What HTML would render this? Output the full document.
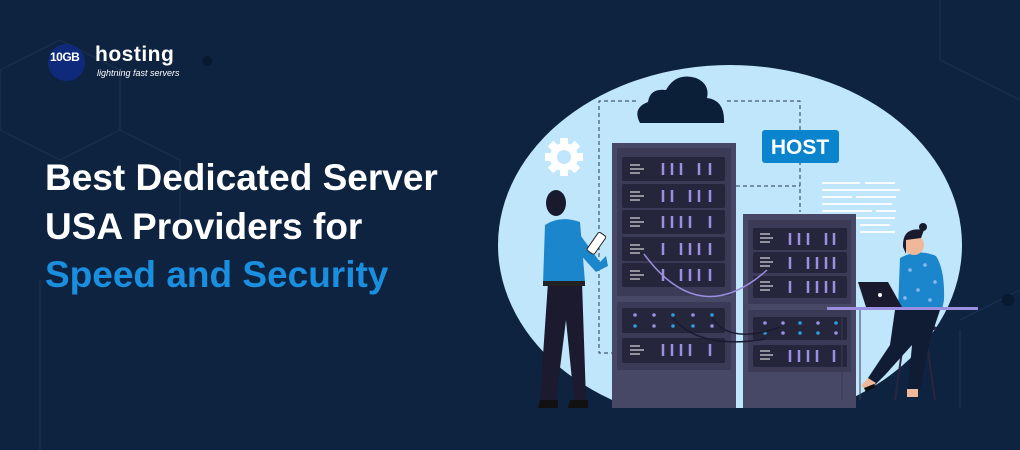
<!DOCTYPE html>
<html><head><meta charset="utf-8"><style>
html,body{margin:0;padding:0;background:#0e2340;}
body{width:1020px;height:450px;overflow:hidden;position:relative;font-family:"Liberation Sans",sans-serif;}
.t{position:absolute;left:45px;font-weight:bold;font-size:37px;color:#fff;letter-spacing:0px;line-height:48px;white-space:nowrap;}
</style></head><body>
<svg width="1020" height="450" style="position:absolute;left:0;top:0">
<g stroke="#1b3352" stroke-width="1" fill="none">
<path d="M0 70 L60 40 L120 70 L120 130 L60 160 L0 130Z"/>
<path d="M120 130 L180 160 L180 220"/>
<path d="M40 280 L40 450"/>
<path d="M940 0 L940 60 L1020 100"/>
<path d="M960 320 L1020 290"/>
<path d="M960 330 L960 450"/>
<path d="M720 410 L720 450 M780 410 L780 450"/>
</g>
<circle cx="207" cy="61" r="5" fill="#081a30"/>
<circle cx="1008" cy="300" r="6" fill="#081a30"/>
<ellipse cx="730" cy="245" rx="232" ry="180" fill="#bfe6fb"/>
<rect x="480" y="408" width="520" height="42" fill="#0e2340"/>
<g stroke="#2a3a55" stroke-width="1" stroke-dasharray="4,3" fill="none">
<path d="M636 101 L599 101 L599 353 L612 353"/>
<path d="M727 101 L800 101 L800 212"/>
<path d="M736 186 L800 186"/>
</g>
<path d="M640 123 Q632 108 648 102 Q650 88 666 90 Q676 72 696 78 Q710 84 707 98 Q725 100 724 123 Z" fill="#0b1f38"/>
<rect x="762" y="130" width="77" height="33" rx="3" fill="#0a84cd"/>
<text x="800" y="154" text-anchor="middle" font-family="Liberation Sans" font-weight="bold" font-size="21" fill="#fff">HOST</text>
<g transform="translate(564,157)" fill="#fff">
<circle r="14"/>
<g><rect x="-4" y="-19" width="8" height="38"/><rect x="-4" y="-19" width="8" height="38" transform="rotate(45)"/><rect x="-4" y="-19" width="8" height="38" transform="rotate(90)"/><rect x="-4" y="-19" width="8" height="38" transform="rotate(135)"/></g>
<circle r="7" fill="#bfe6fb"/>
</g>
<g stroke="#fff" stroke-width="2" opacity="0.9">
<path d="M822 183 h38 M865 183 h30"/><path d="M822 190 h78"/><path d="M822 197 h30 M856 197 h40"/><path d="M822 204 h70"/><path d="M822 211 h50 M876 211 h20"/><path d="M822 218 h25 M850 218 h45"/><path d="M860 225 h30"/><path d="M860 232 h35"/>
</g>
<rect x="612" y="143" width="124" height="265" fill="#474766"/>
<rect x="617" y="148" width="114" height="148" fill="#3b3b58"/>
<rect x="617" y="302" width="114" height="68" fill="#3b3b58"/>
<rect x="622" y="157" width="103" height="24" rx="2" fill="#25253b"/>
<rect x="622" y="184" width="103" height="24" rx="2" fill="#25253b"/>
<rect x="622" y="210" width="103" height="24" rx="2" fill="#25253b"/>
<rect x="622" y="237" width="103" height="24" rx="2" fill="#25253b"/>
<rect x="622" y="263" width="103" height="24" rx="2" fill="#25253b"/>
<rect x="622" y="308" width="103" height="25" rx="2" fill="#25253b"/>
<rect x="622" y="338" width="103" height="25" rx="2" fill="#25253b"/>
<g stroke="#9a8fe0" stroke-width="2.5">
<path d="M663 163v12M672 163v12M681 163v12M699 163v12M710 163v12"/>
<path d="M663 190v12M672 190v12M690 190v12M699 190v12M710 190v12"/>
<path d="M663 216v12M672 216v12M681 216v12M690 216v12M710 216v12"/>
<path d="M663 243v12M681 243v12M690 243v12M699 243v12M710 243v12"/>
<path d="M663 269v12M681 269v12M690 269v12M699 269v12M710 269v12"/>
<path d="M663 344v12M672 344v12M681 344v12M690 344v12M710 344v12"/>
</g>
<g stroke="#fff" stroke-width="1">
<path d="M630 165h10M630 169h14M630 173h10"/><path d="M630 192h10M630 196h14M630 200h10"/><path d="M630 218h10M630 222h14M630 226h10"/><path d="M630 245h10M630 249h14M630 253h10"/><path d="M630 271h10M630 275h14M630 279h10"/><path d="M630 346h10M630 350h14M630 354h10"/>
</g>
<g fill="#9a8fe0"><circle cx="635" cy="315" r="1.8"/><circle cx="654" cy="315" r="1.8"/><circle cx="693" cy="315" r="1.8"/><circle cx="654" cy="326" r="1.8"/><circle cx="712" cy="326" r="1.8"/></g>
<g fill="#2a9ee0"><circle cx="673" cy="315" r="1.8"/><circle cx="712" cy="315" r="1.8"/><circle cx="635" cy="326" r="1.8"/><circle cx="673" cy="326" r="1.8"/><circle cx="693" cy="326" r="1.8"/></g>
<rect x="743" y="214" width="113" height="194" fill="#474766"/>
<rect x="748" y="220" width="103" height="84" fill="#3b3b58"/>
<rect x="748" y="310" width="103" height="62" fill="#3b3b58"/>
<rect x="753" y="228" width="94" height="22" rx="2" fill="#25253b"/>
<rect x="753" y="252" width="94" height="21" rx="2" fill="#25253b"/>
<rect x="753" y="276" width="94" height="22" rx="2" fill="#25253b"/>
<rect x="753" y="317" width="94" height="23" rx="2" fill="#25253b"/>
<rect x="753" y="345" width="94" height="22" rx="2" fill="#25253b"/>
<g stroke="#9a8fe0" stroke-width="2.5">
<path d="M790 233v12M799 233v12M808 233v12M826 233v12M834 233v12"/>
<path d="M790 257v12M808 257v12M817 257v12M826 257v12M834 257v12"/>
<path d="M790 281v12M808 281v12M817 281v12M826 281v12M834 281v12"/>
<path d="M790 350v12M799 350v12M808 350v12M817 350v12M834 350v12"/>
</g>
<g stroke="#fff" stroke-width="1"><path d="M760 234h10M760 238h13M760 242h10"/><path d="M760 258h10M760 262h13M760 266h10"/><path d="M760 282h10M760 286h13M760 290h10"/><path d="M760 351h10M760 355h13M760 359h10"/></g>
<g fill="#9a8fe0"><circle cx="765" cy="323" r="1.8"/><circle cx="783" cy="323" r="1.8"/><circle cx="818" cy="323" r="1.8"/><circle cx="783" cy="333" r="1.8"/><circle cx="836" cy="333" r="1.8"/></g>
<g fill="#2a9ee0"><circle cx="800" cy="323" r="1.8"/><circle cx="836" cy="323" r="1.8"/><circle cx="765" cy="333" r="1.8"/><circle cx="800" cy="333" r="1.8"/><circle cx="818" cy="333" r="1.8"/></g>
<g fill="none" stroke-width="1.5">
<path d="M644 254 Q700 330 767 270" stroke="#9a8fe0"/>
<path d="M673 318 Q700 350 765 339" stroke="#1a1a30"/>
<path d="M712 318 Q730 345 780 327" stroke="#1a1a30"/>
</g>
<!-- man -->
<path d="M548 282 L582 282 L586 400 L574 400 L566 320 L556 400 L540 400 Z" fill="#1c1a2e"/>
<path d="M540 400 h18 v8 h-20Z M570 400 h18 v8 h-20Z" fill="#111"/>
<path d="M545 225 Q560 215 580 222 L585 282 L543 284 Z" fill="#1b86cc"/>
<path d="M578 232 L600 262 L606 256 L608 266 L596 272 L576 250Z" fill="#1b86cc"/>
<rect x="543" y="281" width="42" height="5" fill="#222"/>
<rect x="592" y="232" width="9" height="22" rx="2" transform="rotate(35 596 243)" fill="#fff" stroke="#222"/>
<ellipse cx="556" cy="203" rx="10" ry="13" fill="#1a1a2e"/>
<!-- stool -->
<ellipse cx="915" cy="328" rx="22" ry="4" fill="#2a2540"/>
<path d="M905 330 L895 400 M925 330 L935 400" stroke="#2a2540" stroke-width="2"/>
<!-- woman -->
<path d="M900 258 Q918 248 936 256 Q945 270 944 300 L942 310 L898 310 Z" fill="#1b86cc"/>
<g fill="#8fb8f0"><circle cx="910" cy="270" r="1.8"/><circle cx="925" cy="265" r="1.8"/><circle cx="935" cy="282" r="1.8"/><circle cx="918" cy="290" r="1.8"/><circle cx="905" cy="298" r="1.8"/><circle cx="930" cy="300" r="1.8"/></g>
<circle cx="914" cy="245" r="10" fill="#f0b898"/>
<path d="M903 247 Q902 226 924 230 L921 238 L906 240 L906 254 Z" fill="#1a1a2e"/>
<circle cx="923" cy="227" r="4" fill="#1a1a2e"/>
<path d="M895 310 L940 310 L930 340 L920 390 L908 390 L912 345 L885 375 L875 385 L868 378 L890 345 Z" fill="#0f1c33"/>
<path d="M868 378 l-7 8 l6 4 l9 -7Z M907 389 h11 v8 h-11Z" fill="#f0b898"/>
<path d="M864 388 l10 -4 l2 3 l-10 5Z" fill="#111"/>
<!-- table & laptop -->
<path d="M858 282 L888 282 L902 307 L866 307Z" fill="#1a1a2e"/>
<circle cx="880" cy="295" r="2" fill="#fff"/>
<rect x="827" y="307" width="151" height="3" fill="#9a8fe0"/>
<path d="M842 310 V400 M860 310 V400" stroke="#3b3b58" stroke-width="1"/>
</svg>
<div style="position:absolute;left:48px;top:44px;width:37px;height:37px;border-radius:50%;background:#0f2a7a;"></div>
<div style="position:absolute;left:50px;top:50px;font-weight:bold;font-size:12px;color:#fff;letter-spacing:-0.5px;">10GB</div>
<div style="position:absolute;left:95px;top:43px;font-weight:bold;font-size:21px;color:#fff;letter-spacing:0.5px;">hosting</div>
<div style="position:absolute;left:97px;top:68px;font-style:italic;font-size:9px;color:#fff;">lightning fast servers</div>
<div class="t" style="top:154px;">Best Dedicated Server</div>
<div class="t" style="top:203px;">USA Providers for</div>
<div class="t" style="top:251px;color:#1a8fe0;">Speed and Security</div>
</body></html>
